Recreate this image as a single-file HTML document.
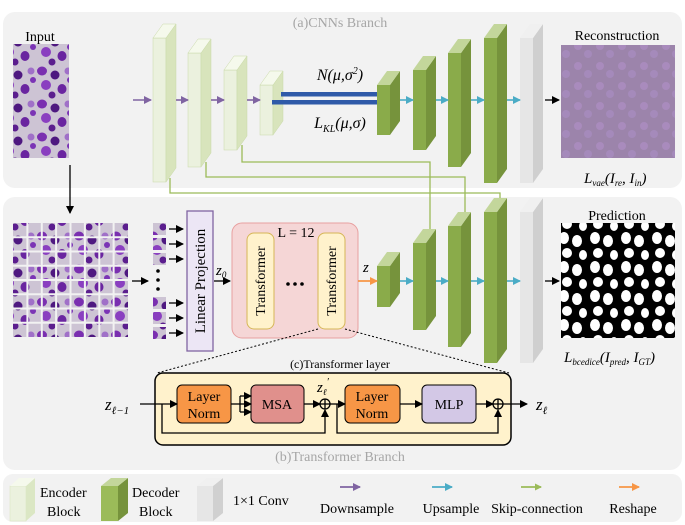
<!DOCTYPE html>
<html><head><meta charset="utf-8"><style>
html,body{margin:0;padding:0;background:#fff}
svg{display:block}
text{font-family:"Liberation Serif",serif;}
</style></head><body>
<svg width="685" height="525" viewBox="0 0 685 525" xmlns="http://www.w3.org/2000/svg">
<defs>
<marker id="mp" markerWidth="8" markerHeight="8" refX="7" refY="4" orient="auto" markerUnits="userSpaceOnUse"><path d="M0,0L8,4L0,8z" fill="#8064a2"/></marker>
<marker id="mc" markerWidth="8" markerHeight="8" refX="7" refY="4" orient="auto" markerUnits="userSpaceOnUse"><path d="M0,0L8,4L0,8z" fill="#4bacc6"/></marker>
<marker id="mg" markerWidth="7" markerHeight="7" refX="6" refY="3.5" orient="auto" markerUnits="userSpaceOnUse"><path d="M0,0L7,3.5L0,7z" fill="#9bbb59"/></marker>
<marker id="mo" markerWidth="8" markerHeight="8" refX="7" refY="4" orient="auto" markerUnits="userSpaceOnUse"><path d="M0,0L8,4L0,8z" fill="#f79646"/></marker>
<marker id="mk" markerWidth="8" markerHeight="8" refX="7" refY="4" orient="auto" markerUnits="userSpaceOnUse"><path d="M0,0L8,4L0,8z" fill="#000"/></marker>
<pattern id="cells" width="37" height="33" patternUnits="userSpaceOnUse">
<rect width="37" height="33" fill="#cdc4d4"/>
<ellipse cx="5" cy="5" rx="5" ry="4.5" fill="#7a2fb0"/><circle cx="18" cy="9" r="4.5" fill="#4e1880"/>
<circle cx="9" cy="19" r="5" fill="#8a3fc0"/><ellipse cx="25" cy="23" rx="4.5" ry="5" fill="#6a25a0"/>
<circle cx="31" cy="5" r="3.5" fill="#a070c8"/><circle cx="15" cy="29" r="3.5" fill="#5b1e8e"/>
<circle cx="33" cy="14" r="3" fill="#7b34b5"/>
</pattern>
<pattern id="recon" width="22" height="20" patternUnits="userSpaceOnUse">
<rect width="22" height="20" fill="#9c84ab"/>
<circle cx="6" cy="6" r="4" fill="#a98bbd"/><circle cx="16" cy="14" r="4" fill="#a58abb"/>
</pattern>
<pattern id="pred" width="31" height="29" patternUnits="userSpaceOnUse">
<rect width="31" height="29" fill="#000"/>
<ellipse cx="6" cy="6" rx="5" ry="6" fill="#fff"/><ellipse cx="19" cy="9" rx="5" ry="6" fill="#fff"/>
<circle cx="9" cy="21" r="5" fill="#fff"/><ellipse cx="25" cy="23" rx="4" ry="5" fill="#fff"/>
</pattern>
</defs>

<rect x="3" y="12" width="679" height="176" rx="12" fill="#f2f2f2"/>
<rect x="3" y="197" width="679" height="273" rx="12" fill="#f2f2f2"/>
<rect x="3" y="474" width="679" height="48" rx="10" fill="#f2f2f2"/>
<text x="340" y="27" font-size="14" fill="#a6a6a6" text-anchor="middle">(a)CNNs Branch</text>
<text x="340" y="461" font-size="14" fill="#a6a6a6" text-anchor="middle">(b)Transformer Branch</text>

<text x="40" y="41" font-size="14" text-anchor="middle">Input</text>
<rect x="13" y="44" width="56" height="114" fill="url(#cells)"/>
<text x="617" y="40" font-size="14" text-anchor="middle">Reconstruction</text>
<rect x="561" y="45" width="114" height="113" fill="url(#recon)"/>
<text x="584" y="183" font-size="15" font-style="italic">L<tspan font-size="9" dy="3">vae</tspan><tspan dy="-3">(I</tspan><tspan font-size="9" dy="3">re</tspan><tspan dy="-3">, I</tspan><tspan font-size="9" dy="3">in</tspan><tspan dy="-3">)</tspan></text>

<line x1="70" y1="165" x2="70" y2="213" stroke="#000" stroke-width="1.3" marker-end="url(#mk)"/>

<g fill="none" stroke="#9bbb59" stroke-width="1.3">
<polyline points="242,145 242,162 430,162 430,236" marker-end="url(#mg)"/>
<polyline points="206,162 206,177 465,177 465,219" marker-end="url(#mg)"/>
<polyline points="170,178 170,193 500,193 500,205" marker-end="url(#mg)"/>
</g>

<g stroke="#c9d9a8" stroke-width="0.5">
<rect x="153" y="38" width="13" height="144" fill="#ebf1de"/><polygon points="166,38 176,24 176,168 166,182" fill="#d8e4bc"/><polygon points="153,38 163,24 176,24 166,38" fill="#f5f9ec"/>
<rect x="188" y="53" width="13" height="114" fill="#ebf1de"/><polygon points="201,53 211,39 211,153 201,167" fill="#d8e4bc"/><polygon points="188,53 198,39 211,39 201,53" fill="#f5f9ec"/>
<rect x="224" y="70" width="13" height="80" fill="#ebf1de"/><polygon points="237,70 247,56 247,136 237,150" fill="#d8e4bc"/><polygon points="224,70 234,56 247,56 237,70" fill="#f5f9ec"/>
<rect x="260" y="85" width="13" height="50" fill="#ebf1de"/><polygon points="273,85 283,71 283,121 273,135" fill="#d8e4bc"/><polygon points="260,85 270,71 283,71 273,85" fill="#f5f9ec"/>
</g>
<g>
<rect x="377" y="85" width="13" height="50" fill="#8aab4a"/><polygon points="390,85 400,71 400,121 390,135" fill="#76933c"/><polygon points="377,85 387,71 400,71 390,85" fill="#c3d69b"/>
<rect x="413" y="70" width="13" height="80" fill="#8aab4a"/><polygon points="426,70 436,56 436,136 426,150" fill="#76933c"/><polygon points="413,70 423,56 436,56 426,70" fill="#c3d69b"/>
<rect x="448" y="53" width="13" height="114" fill="#8aab4a"/><polygon points="461,53 471,39 471,153 461,167" fill="#76933c"/><polygon points="448,53 458,39 471,39 461,53" fill="#c3d69b"/>
<rect x="484" y="38" width="13" height="145" fill="#8aab4a"/><polygon points="497,38 507,24 507,169 497,183" fill="#76933c"/><polygon points="484,38 494,24 507,24 497,38" fill="#c3d69b"/>
<rect x="520" y="38" width="13" height="145" fill="#e6e6e6"/><polygon points="533,38 543,24 543,169 533,183" fill="#cfcfcf"/><polygon points="520,38 530,24 543,24 533,38" fill="#f0f0f0"/>
</g>
<g>
<rect x="377" y="266" width="13" height="41" fill="#8aab4a"/><polygon points="390,266 400,252 400,293 390,307" fill="#76933c"/><polygon points="377,266 387,252 400,252 390,266" fill="#c3d69b"/>
<rect x="413" y="243" width="13" height="87" fill="#8aab4a"/><polygon points="426,243 436,229 436,316 426,330" fill="#76933c"/><polygon points="413,243 423,229 436,229 426,243" fill="#c3d69b"/>
<rect x="448" y="226" width="13" height="121" fill="#8aab4a"/><polygon points="461,226 471,212 471,333 461,347" fill="#76933c"/><polygon points="448,226 458,212 471,212 461,226" fill="#c3d69b"/>
<rect x="484" y="212" width="13" height="151" fill="#8aab4a"/><polygon points="497,212 507,198 507,349 497,363" fill="#76933c"/><polygon points="484,212 494,198 507,198 497,212" fill="#c3d69b"/>
<rect x="520" y="212" width="13" height="151" fill="#e6e6e6"/><polygon points="533,212 543,198 543,349 533,363" fill="#cfcfcf"/><polygon points="520,212 530,198 543,198 533,212" fill="#f0f0f0"/>
</g>

<g stroke-width="1.6">
<line x1="133" y1="100" x2="151" y2="100" stroke="#8064a2" marker-end="url(#mp)"/>
<line x1="176" y1="100" x2="188" y2="100" stroke="#8064a2" marker-end="url(#mp)"/>
<line x1="211" y1="100" x2="224" y2="100" stroke="#8064a2" marker-end="url(#mp)"/>
<line x1="247" y1="100" x2="260" y2="100" stroke="#8064a2" marker-end="url(#mp)"/>
<line x1="400" y1="100" x2="413" y2="100" stroke="#4bacc6" marker-end="url(#mc)"/>
<line x1="436" y1="100" x2="448" y2="100" stroke="#4bacc6" marker-end="url(#mc)"/>
<line x1="471" y1="100" x2="484" y2="100" stroke="#4bacc6" marker-end="url(#mc)"/>
<line x1="507" y1="100" x2="520" y2="100" stroke="#4bacc6" marker-end="url(#mc)"/>
<line x1="545" y1="100" x2="559" y2="100" stroke="#000" stroke-width="1.3" marker-end="url(#mk)"/>
</g>
<rect x="281" y="92" width="96" height="4.5" fill="#2f5aa8"/>
<rect x="272" y="100" width="105" height="4.5" fill="#2f5aa8"/>
<text x="340" y="80" font-size="16" font-style="italic" text-anchor="middle">N(μ,σ<tspan font-size="10" dy="-6">2</tspan><tspan dy="6">)</tspan></text>
<text x="340" y="128" font-size="16" font-style="italic" text-anchor="middle">L<tspan font-size="10" dy="4">KL</tspan><tspan dy="-4">(μ,σ)</tspan></text>

<rect x="13" y="223" width="115" height="114" fill="url(#cells)"/>
<g stroke="#f2f2f2" stroke-width="2">
<line x1="27.4" y1="223" x2="27.4" y2="337"/><line x1="41.8" y1="223" x2="41.8" y2="337"/><line x1="56.1" y1="223" x2="56.1" y2="337"/><line x1="70.5" y1="223" x2="70.5" y2="337"/><line x1="84.9" y1="223" x2="84.9" y2="337"/><line x1="99.3" y1="223" x2="99.3" y2="337"/><line x1="113.6" y1="223" x2="113.6" y2="337"/>
<line x1="13" y1="237.3" x2="128" y2="237.3"/><line x1="13" y1="251.5" x2="128" y2="251.5"/><line x1="13" y1="265.8" x2="128" y2="265.8"/><line x1="13" y1="280" x2="128" y2="280"/><line x1="13" y1="294.3" x2="128" y2="294.3"/><line x1="13" y1="308.5" x2="128" y2="308.5"/><line x1="13" y1="322.8" x2="128" y2="322.8"/>
</g>
<line x1="132" y1="281" x2="148" y2="281" stroke="#000" stroke-width="1.3" marker-end="url(#mk)"/>
<circle cx="158" cy="271" r="1.8"/><circle cx="158" cy="280" r="1.8"/><circle cx="158" cy="289" r="1.8"/>
<g>
<rect x="153" y="223" width="13" height="12" fill="url(#cells)"/><rect x="153" y="238" width="13" height="12" fill="url(#cells)"/><rect x="153" y="253" width="13" height="12" fill="url(#cells)"/>
<rect x="153" y="297" width="13" height="12" fill="url(#cells)"/><rect x="153" y="312" width="13" height="12" fill="url(#cells)"/><rect x="153" y="327" width="13" height="12" fill="url(#cells)"/>
</g>
<g stroke="#000" stroke-width="1.3">
<line x1="169" y1="229" x2="183" y2="229" marker-end="url(#mk)"/><line x1="169" y1="244" x2="183" y2="244" marker-end="url(#mk)"/><line x1="169" y1="259" x2="183" y2="259" marker-end="url(#mk)"/>
<line x1="169" y1="303" x2="183" y2="303" marker-end="url(#mk)"/><line x1="169" y1="318" x2="183" y2="318" marker-end="url(#mk)"/><line x1="169" y1="333" x2="183" y2="333" marker-end="url(#mk)"/>
</g>
<rect x="187" y="211" width="26" height="140" fill="#ece6f5" stroke="#8064a2" stroke-width="1.3"/>
<text transform="translate(205,281) rotate(-90)" font-size="15" text-anchor="middle">Linear Projection</text>
<line x1="214" y1="281" x2="230" y2="281" stroke="#000" stroke-width="1.3" marker-end="url(#mk)"/>
<text x="216" y="275" font-size="15" font-style="italic">z<tspan font-size="9" dy="3">0</tspan></text>

<rect x="232" y="223" width="126" height="115" rx="10" fill="#f5d6d6" stroke="#e8a0a0" stroke-width="1"/>
<text x="296" y="237" font-size="14" text-anchor="middle">L = 12</text>
<rect x="247" y="233" width="27" height="96" rx="7" fill="#fff2cc" stroke="#d6b656" stroke-width="1"/>
<rect x="318" y="233" width="27" height="96" rx="7" fill="#fff2cc" stroke="#d6b656" stroke-width="1"/>
<text transform="translate(265,281) rotate(-90)" font-size="14" text-anchor="middle">Transformer</text>
<text transform="translate(336,281) rotate(-90)" font-size="14" text-anchor="middle">Transformer</text>
<circle cx="288" cy="284" r="1.8"/><circle cx="295" cy="284" r="1.8"/><circle cx="302" cy="284" r="1.8"/>
<text x="363" y="272" font-size="15" font-style="italic">z</text>
<line x1="358" y1="281" x2="377" y2="281" stroke="#f79646" stroke-width="1.8" marker-end="url(#mo)"/>
<g stroke-width="1.6">
<line x1="400" y1="281" x2="413" y2="281" stroke="#4bacc6" marker-end="url(#mc)"/>
<line x1="436" y1="281" x2="448" y2="281" stroke="#4bacc6" marker-end="url(#mc)"/>
<line x1="471" y1="281" x2="484" y2="281" stroke="#4bacc6" marker-end="url(#mc)"/>
<line x1="507" y1="281" x2="520" y2="281" stroke="#4bacc6" marker-end="url(#mc)"/>
<line x1="545" y1="281" x2="559" y2="281" stroke="#000" stroke-width="1.3" marker-end="url(#mk)"/>
</g>
<text x="617" y="220" font-size="14" text-anchor="middle">Prediction</text>
<rect x="561" y="223" width="114" height="115" fill="url(#pred)"/>
<text x="564" y="362" font-size="15" font-style="italic">L<tspan font-size="9" dy="3">bcedice</tspan><tspan dy="-3">(I</tspan><tspan font-size="9" dy="3">pred</tspan><tspan dy="-3">, I</tspan><tspan font-size="9" dy="3">GT</tspan><tspan dy="-3">)</tspan></text>

<line x1="318" y1="329" x2="157" y2="373" stroke="#000" stroke-dasharray="2,2"/>
<line x1="345" y1="329" x2="509" y2="373" stroke="#000" stroke-dasharray="2,2"/>
<text x="340" y="368" font-size="12" text-anchor="middle">(c)Transformer layer</text>
<rect x="155" y="373" width="356" height="72" rx="8" fill="#fff2cc" stroke="#000" stroke-width="1.5"/>
<rect x="177" y="385" width="54" height="38" rx="5" fill="#f79646" stroke="#000" stroke-width="1"/>
<text x="204" y="401" font-size="14" text-anchor="middle">Layer</text><text x="204" y="418" font-size="14" text-anchor="middle">Norm</text>
<rect x="251" y="385" width="53" height="38" rx="5" fill="#e0908c" stroke="#000" stroke-width="1"/>
<text x="277" y="409" font-size="14" text-anchor="middle">MSA</text>
<rect x="345" y="385" width="55" height="38" rx="5" fill="#f79646" stroke="#000" stroke-width="1"/>
<text x="372" y="401" font-size="14" text-anchor="middle">Layer</text><text x="372" y="418" font-size="14" text-anchor="middle">Norm</text>
<rect x="422" y="385" width="54" height="38" rx="5" fill="#d3c8e6" stroke="#000" stroke-width="1"/>
<text x="449" y="409" font-size="14" text-anchor="middle">MLP</text>
<g stroke="#000" stroke-width="1.3" fill="none">
<line x1="140" y1="404" x2="177" y2="404" marker-end="url(#mk)"/>
<polyline points="231,404 240,404"/>
<polyline points="240,396 240,412"/>
<line x1="240" y1="396" x2="251" y2="396" marker-end="url(#mk)"/>
<line x1="240" y1="404" x2="251" y2="404" marker-end="url(#mk)"/>
<line x1="240" y1="412" x2="251" y2="412" marker-end="url(#mk)"/>
<line x1="304" y1="404" x2="320" y2="404" marker-end="url(#mk)"/>
<circle cx="325" cy="404" r="5"/><line x1="320" y1="404" x2="330" y2="404"/><line x1="325" y1="399" x2="325" y2="409"/>
<line x1="330" y1="404" x2="345" y2="404" marker-end="url(#mk)"/>
<line x1="400" y1="404" x2="422" y2="404" marker-end="url(#mk)"/>
<line x1="476" y1="404" x2="493" y2="404" marker-end="url(#mk)"/>
<circle cx="498" cy="404" r="5"/><line x1="493" y1="404" x2="503" y2="404"/><line x1="498" y1="399" x2="498" y2="409"/>
<line x1="503" y1="404" x2="527" y2="404" marker-end="url(#mk)"/>
<polyline points="162,404 162,433 325,433 325,410" marker-end="url(#mk)"/>
<polyline points="337,404 337,433 498,433 498,410" marker-end="url(#mk)"/>
</g>
<text x="105" y="410" font-size="17" font-style="italic">z<tspan font-size="11" dy="4">ℓ−1</tspan></text>
<text x="317" y="392" font-size="15" font-style="italic">z<tspan font-size="9" dy="3">ℓ</tspan><tspan font-size="10" dy="-10">′</tspan></text>
<text x="536" y="410" font-size="17" font-style="italic">z<tspan font-size="11" dy="4">ℓ</tspan></text>

<rect x="10" y="486" width="16" height="35" fill="#ebf1de" stroke="#d8e4bc" stroke-width="0.5"/><polygon points="26,486 35,478 35,513 26,521" fill="#dbe7c4"/><polygon points="10,486 19,478 35,478 26,486" fill="#f5f9ec"/>
<text x="40" y="497" font-size="14">Encoder</text><text x="47" y="516" font-size="14">Block</text>
<rect x="101" y="486" width="17" height="35" fill="#9bbb59"/><polygon points="118,486 128,478 128,513 118,521" fill="#76933c"/><polygon points="101,486 111,478 128,478 118,486" fill="#c3d69b"/>
<text x="132" y="497" font-size="14">Decoder</text><text x="139" y="516" font-size="14">Block</text>
<rect x="197" y="486" width="16" height="35" fill="#e6e6e6"/><polygon points="213,486 223,478 223,513 213,521" fill="#d0d0d0"/><polygon points="197,486 207,478 223,478 213,486" fill="#f0f0f0"/>
<text x="233" y="505" font-size="14">1×1 Conv</text>
<line x1="340" y1="487" x2="360" y2="487" stroke="#8064a2" stroke-width="1.8" marker-end="url(#mp)"/>
<line x1="432" y1="487" x2="452" y2="487" stroke="#4bacc6" stroke-width="1.8" marker-end="url(#mc)"/>
<line x1="521" y1="487" x2="541" y2="487" stroke="#9bbb59" stroke-width="1.8" marker-end="url(#mg)"/>
<line x1="619" y1="487" x2="639" y2="487" stroke="#f79646" stroke-width="1.8" marker-end="url(#mo)"/>
<text x="357" y="513" font-size="14" text-anchor="middle">Downsample</text>
<text x="451" y="513" font-size="14" text-anchor="middle">Upsample</text>
<text x="537" y="513" font-size="14" text-anchor="middle">Skip-connection</text>
<text x="633" y="513" font-size="14" text-anchor="middle">Reshape</text>
</svg>
</body></html>
